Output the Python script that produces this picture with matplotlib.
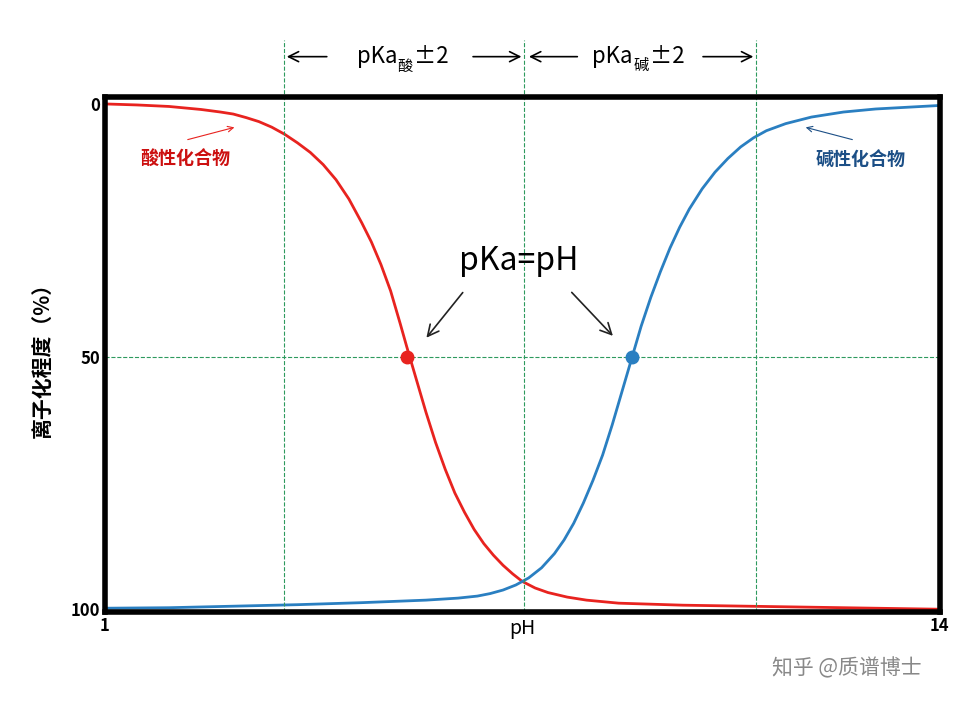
import matplotlib.pyplot as plt
import matplotlib.transforms as mtransforms

plt.rcParams['font.family'] = ['Noto Sans CJK SC', 'DejaVu Sans']

# values
acid_ph = [1, 1.5, 2, 2.5, 2.8, 3, 3.2, 3.4, 3.6, 3.8, 4, 4.2, 4.4, 4.6, 4.8, 5, 5.15, 5.3, 5.45, 5.6, 5.7,
           5.85, 6, 6.15, 6.3, 6.45, 6.6, 6.75, 6.9, 7.05, 7.2, 7.35, 7.5, 7.7, 7.9, 8.2, 8.5, 9, 10, 11, 12, 13, 14]
acid_ion = [0, 0.2, 0.5, 1.1, 1.6, 2, 2.7, 3.5, 4.6, 6, 7.7, 9.6, 12, 15, 18.8, 23.5, 27.3, 31.8, 37, 43.5, 48,
            54.5, 61, 67, 72.3, 77, 80.8, 84.2, 87, 89.3, 91.3, 93, 94.5, 95.8, 96.7, 97.6, 98.2, 98.8, 99.2, 99.4, 99.6, 99.8, 100]
base_ph = [1, 2, 3, 4, 5, 6, 6.5, 6.8, 7, 7.2, 7.4, 7.6, 7.8, 8, 8.15, 8.3, 8.45, 8.6, 8.75, 8.9, 9.05, 9.2,
           9.35, 9.5, 9.65, 9.8, 9.95, 10.1, 10.3, 10.5, 10.7, 10.9, 11.1, 11.3, 11.6, 12, 12.5, 13, 14]
base_ion = [99.8, 99.7, 99.4, 99.1, 98.7, 98.2, 97.8, 97.4, 96.9, 96.2, 95.2, 93.8, 91.8, 89, 86.3, 83, 79, 74.5,
            69.5, 63.5, 57, 50.5, 44, 38.3, 33.2, 28.5, 24.4, 20.8, 16.8, 13.5, 10.8, 8.5, 6.7, 5.3, 3.9, 2.6, 1.6, 1, 0.3]
pka_acid = 5.7
pka_base = 9.2
guide_x = [3.79, 7.53, 11.14]

fig = plt.figure(figsize=(9.79, 7.07), dpi=100)
ax = fig.add_axes([0.107, 0.134, 0.853, 0.729])
ax.set_xlim(1, 14)
ax.set_ylim(100.6, -1.4)

red = '#e8231f'
blue = '#2a7fc1'
green = '#2e9a5e'

ax.plot(acid_ph, acid_ion, color=red, lw=2)
ax.plot(base_ph, base_ion, color=blue, lw=2)
ax.plot([pka_acid], [50], 'o', color=red, ms=9, zorder=5)
ax.plot([pka_base], [50], 'o', color=blue, ms=9, zorder=5)

ax.axhline(50, color=green, ls='--', lw=0.8)
trans = mtransforms.blended_transform_factory(ax.transData, ax.transAxes)
for gx in guide_x:
    ax.plot([gx, gx], [0, 1.11], transform=trans, color=green, ls='--', lw=0.8, clip_on=False)

for s in ax.spines.values():
    s.set_linewidth(4)
ax.set_xticks([1, 14])
ax.set_yticks([0, 50, 100])
ax.tick_params(length=0, labelsize=12)
for lab in ax.get_xticklabels() + ax.get_yticklabels():
    lab.set_fontweight('bold')
ax.set_xlabel('pH', fontsize=14, labelpad=-12)
ax.set_ylabel('离子化程度（%）', fontsize=15, fontweight='bold', labelpad=12)

# pKa = pH label and arrows
ax.text(7.45, 31, 'pKa=pH', fontsize=23, ha='center', va='center')
akw = dict(arrowstyle='->', color='#222222', lw=1.2, mutation_scale=20)
ax.annotate('', xy=(5.98, 46.7), xytext=(6.6, 36.9), arrowprops=akw)
ax.annotate('', xy=(8.94, 46.3), xytext=(8.24, 36.9), arrowprops=akw)

# compound labels
ax.text(2.25, 11, '酸性化合物', color='#cc1010', fontsize=13, fontweight='bold', ha='center', va='center')
ax.annotate('', xy=(3.06, 4.5), xytext=(2.25, 7.2),
            arrowprops=dict(arrowstyle='->', color=red, lw=0.8))
ax.text(12.76, 11, '碱性化合物', color='#1c4f86', fontsize=13, fontweight='bold', ha='center', va='center')
ax.annotate('', xy=(11.87, 4.5), xytext=(12.68, 7.2),
            arrowprops=dict(arrowstyle='->', color='#1c4f86', lw=0.8))

# top range labels
ty = 1.078
hkw = dict(arrowstyle='->', color='black', lw=1.2, mutation_scale=18)
for x0, x1 in [(4.5, 3.79), (6.69, 7.53), (8.4, 7.56), (10.27, 11.14)]:
    ax.annotate('', xy=(x1, ty), xytext=(x0, ty), xycoords=trans, textcoords=trans,
                arrowprops=hkw, annotation_clip=False)
for xr, sub in [(5.55, '酸'), (9.22, '碱')]:
    ax.text(xr, ty, 'pKa', transform=trans, fontsize=16, ha='right', va='center')
    ax.text(xr + 0.01, ty - 0.018, sub, transform=trans, fontsize=11, ha='left', va='center')
    ax.text(xr + 0.27, ty, '±2', transform=trans, fontsize=16, ha='left', va='center')

fig.text(0.865, 0.055, '知乎 @质谱博士', fontsize=15, color='#888888', ha='center', va='center')

fig.savefig('out.png', dpi=100)
